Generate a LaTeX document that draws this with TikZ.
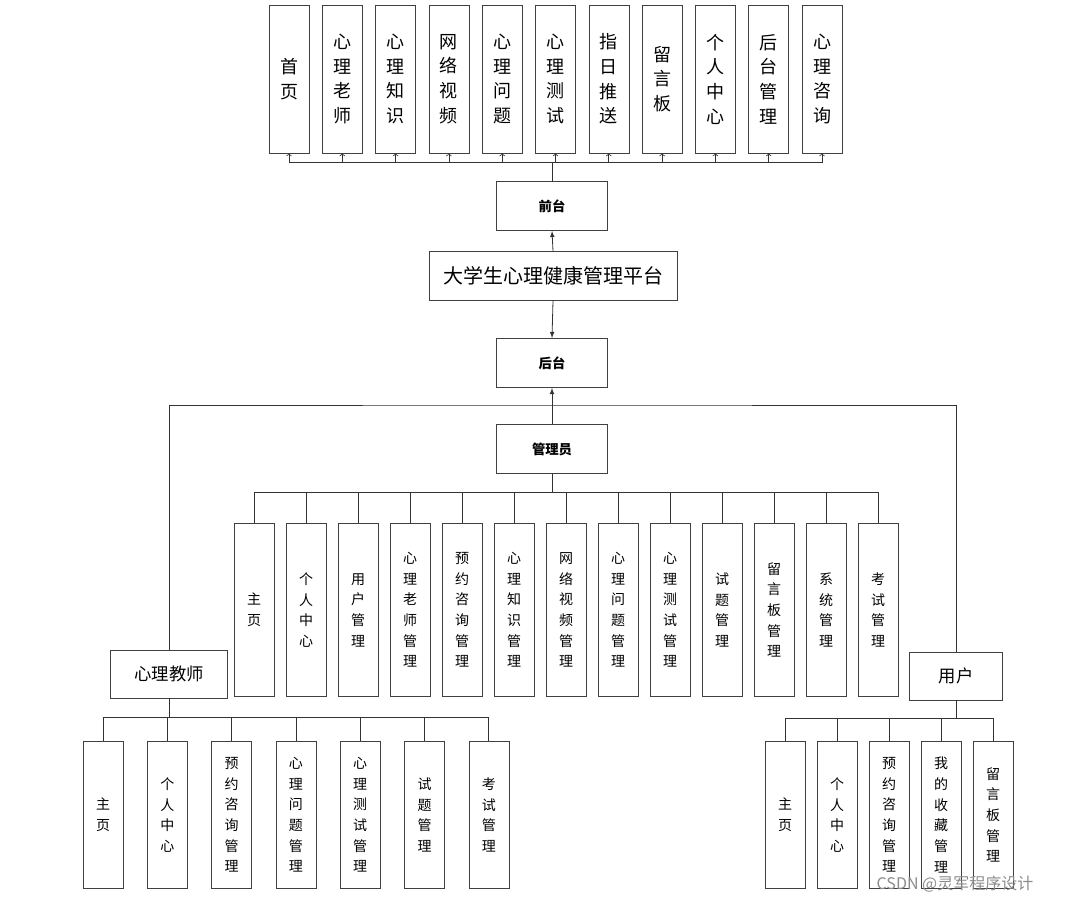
\documentclass[tikz,border=0pt]{standalone}
\usepackage{fontspec}
\setmainfont{Noto Sans CJK SC}
\usetikzlibrary{positioning}
\tikzset{
  box/.style={draw=black!75,fill=white,align=center,inner sep=1pt},
  tall/.style={box,minimum width=30pt,minimum height=111pt,font=\fontsize{13.5}{18.5}\selectfont},
  mid/.style={box,minimum width=30pt,minimum height=130pt,font=\fontsize{10.5}{15.5}\selectfont},
  low/.style={box,minimum width=30pt,minimum height=110pt,font=\fontsize{10.5}{15.5}\selectfont},
  hub/.style={box,minimum width=83pt,minimum height=37pt,font=\bfseries\fontsize{10}{12}\selectfont},
  role/.style={box,minimum height=36pt,font=\fontsize{13}{15}\selectfont},
  line/.style={draw=black!80,line width=0.6pt}
}
\begin{document}
\begin{tikzpicture}[x=0.75pt,y=-0.75pt]
\useasboundingbox (0,0) rectangle (1067,902);
% levels
\node[hub] (ft) at (552,206) {前台};
\node[box,minimum width=186pt,minimum height=37pt,font=\fontsize{15}{18}\selectfont] (plat) at (553,276) {大学生心理健康管理平台};
\node[hub] (bt) at (552,363) {后台};
\node[hub] (adm) at (552,449) {管理员};
\node[role,minimum width=88pt] (tea) at (169,674) {心理教师};
\node[role,minimum width=70pt] (usr) at (956,676) {用户};
\coordinate (j) at (552,405);

\draw[line,-latex] (plat.north) -- (ft.south);
\draw[line,-latex] (plat.south) -- (bt.north);
\draw[line,-latex] (adm.north) -- (bt.south);
\draw[line] (tea.north) |- (j) -| (usr.north);

% front pages
\foreach \t [count=\i] in {{首\\页},{心\\理\\老\\师},{心\\理\\知\\识},{网\\络\\视\\频},{心\\理\\问\\题},{心\\理\\测\\试},{指\\日\\推\\送},{留\\言\\板},{个\\人\\中\\心},{后\\台\\管\\理},{心\\理\\咨\\询}}{
  \node[tall] (f\i) at ({289+53.3*(\i-1)},79) {\t};
  \draw[line,->] (ft.north) -- ++(0,-19) -| (f\i.south);
}

% admin pages
\foreach \t [count=\i] in {{主\\页},{个\\人\\中\\心},{用\\户\\管\\理},{心\\理\\老\\师\\管\\理},{预\\约\\咨\\询\\管\\理},{心\\理\\知\\识\\管\\理},{网\\络\\视\\频\\管\\理},{心\\理\\问\\题\\管\\理},{心\\理\\测\\试\\管\\理},{试\\题\\管\\理},{留\\言\\板\\管\\理},{系\\统\\管\\理},{考\\试\\管\\理}}{
  \node[mid] (a\i) at ({254+52*(\i-1)},610) {\t};
  \draw[line] (adm.south) -- ++(0,18) -| (a\i.north);
}

% teacher pages
\foreach \t [count=\i] in {{主\\页},{个\\人\\中\\心},{预\\约\\咨\\询\\管\\理},{心\\理\\问\\题\\管\\理},{心\\理\\测\\试\\管\\理},{试\\题\\管\\理},{考\\试\\管\\理}}{
  \node[low] (t\i) at ({103+64.3*(\i-1)},815) {\t};
  \draw[line] (tea.south) -- ++(0,19) -| (t\i.north);
}

% user pages
\foreach \t [count=\i] in {{主\\页},{个\\人\\中\\心},{预\\约\\咨\\询\\管\\理},{我\\的\\收\\藏\\管\\理},{留\\言\\板\\管\\理}}{
  \node[low] (u\i) at ({785+52*(\i-1)},815) {\t};
  \draw[line] (usr.south) -- ++(0,18) -| (u\i.north);
}

\node[text=black!45,font=\fontsize{12}{14}\selectfont] (wm) at (955,884) {CSDN @灵军程序设计};
\end{tikzpicture}
\end{document}
